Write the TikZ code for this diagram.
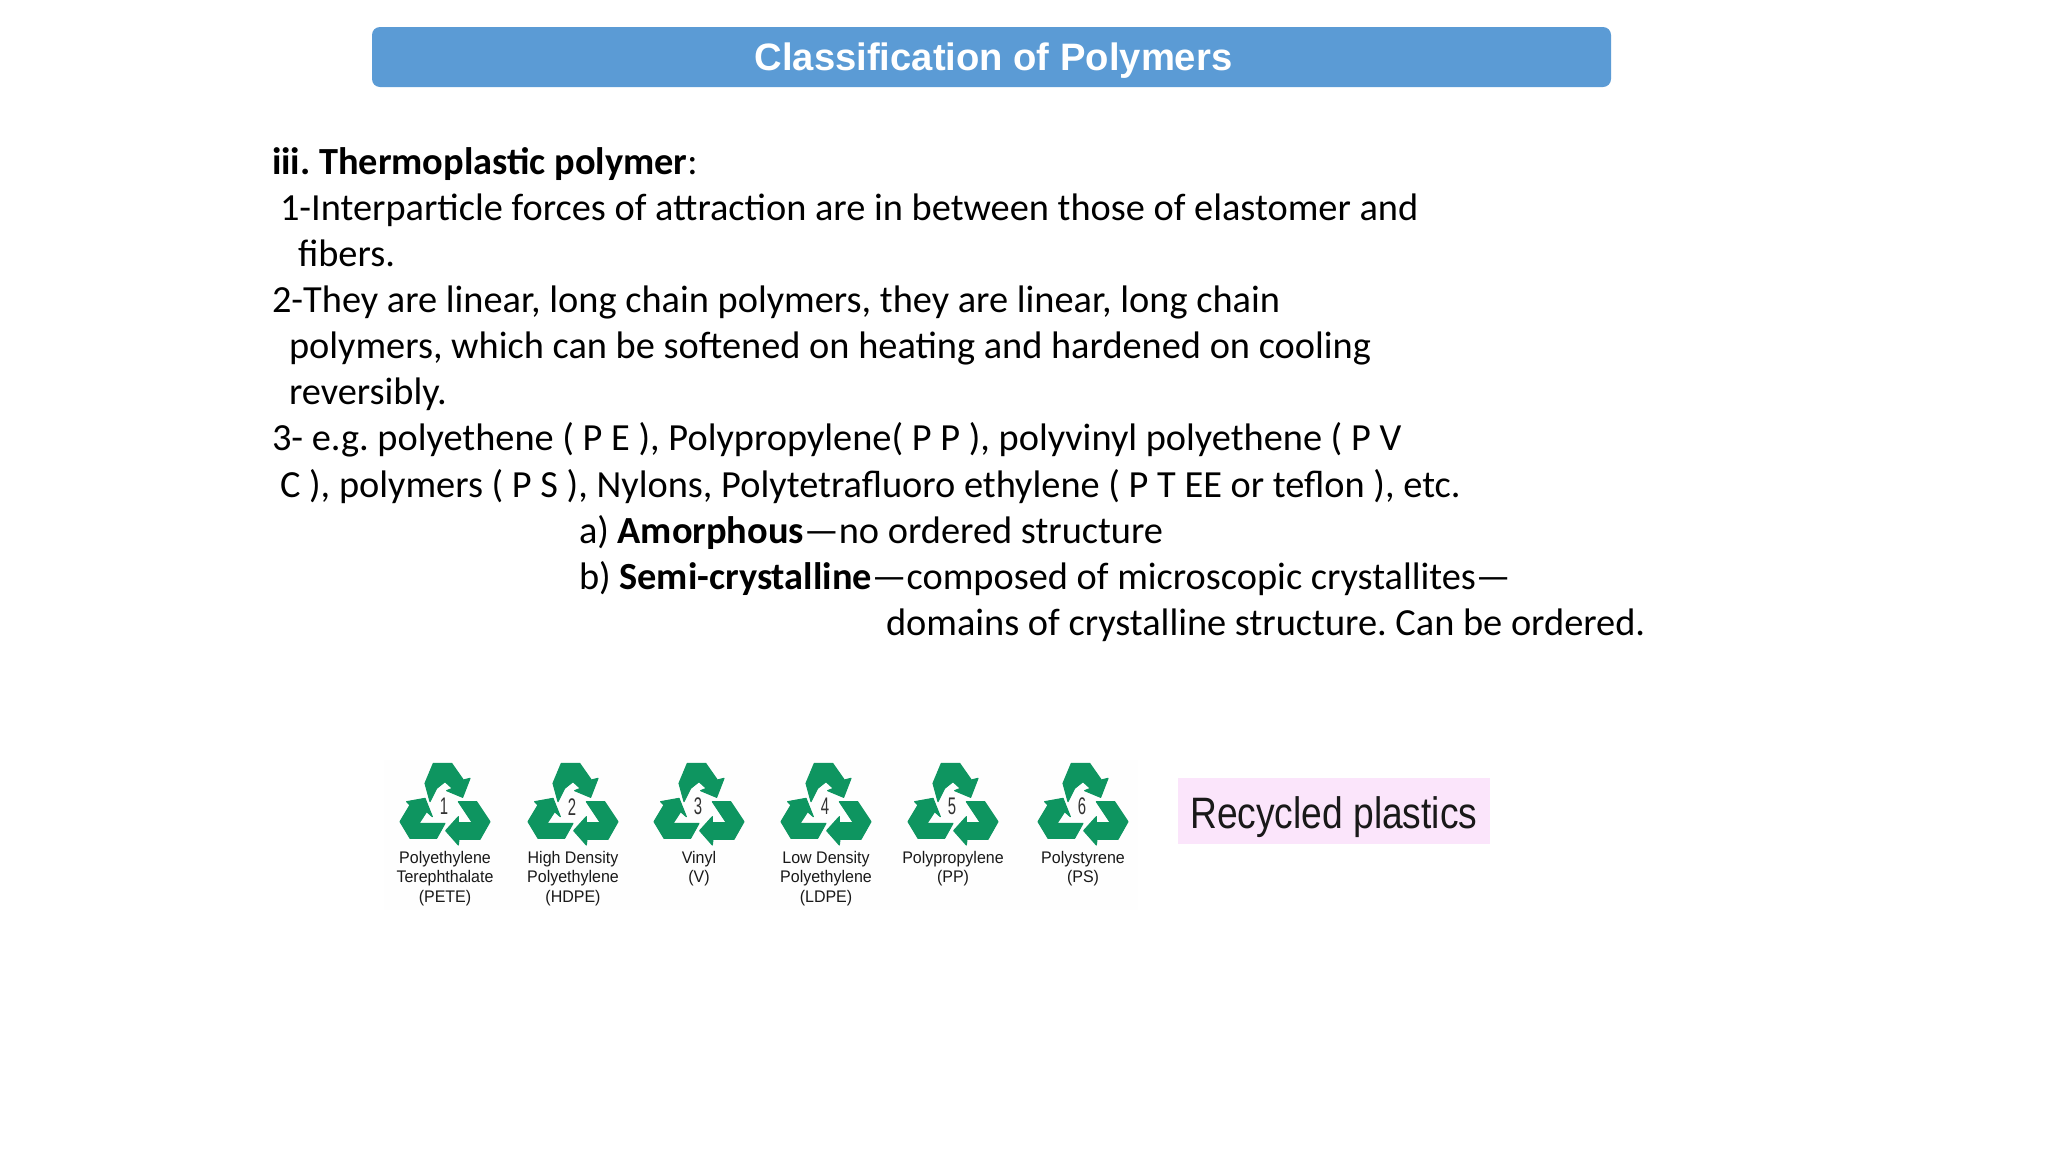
\documentclass[tikz,border=0pt]{standalone}
\usepackage{fontspec}
\setmainfont{Carlito}
\newfontfamily\arialfont{Liberation Sans}
\definecolor{bannerblue}{HTML}{5B9BD5}
\definecolor{recygreen}{HTML}{0E9560}
\definecolor{pinkbg}{HTML}{FBE5FB}
\definecolor{imgbg}{HTML}{FEFEFE}
\tikzset{
  bodytext/.style={anchor=base west,inner sep=0pt,outer sep=0pt,font=\fontsize{38.36}{46}\selectfont,text=black},
  banner/.style={fill=bannerblue,draw=none,rounded corners=8pt,inner sep=0pt,outer sep=0pt},
  bannertext/.style={inner sep=0pt,text=white,font=\arialfont\bfseries\fontsize{38.2}{46}\selectfont},
  arrowshape/.style={fill=recygreen,draw=recygreen,line width=1.1pt,line join=round},
  digit/.style={inner sep=0pt,text=black!80,font=\arialfont\fontsize{24}{24}\selectfont},
  iconlabel/.style={anchor=north,align=center,inner sep=0pt,text=black!90,font=\arialfont\fontsize{16}{18.6}\selectfont},
  recytext/.style={anchor=base west,inner sep=0pt,text=black!90,font=\arialfont\fontsize{44}{46}\selectfont}
}
\newcommand{\recysym}[3]{%
  \begin{scope}[shift={(#1,760)},x=0.3333pt,y=-0.3333pt]
    \filldraw[arrowshape] (-35,10) -- (20,10) -- (55,60) -- (75,55) -- (53,112) -- (5,92) -- (22,85) -- (0,65) -- (-25,85) -- (-45,125) -- (-60,70) -- cycle;
    \filldraw[arrowshape] (-135,185) -- (-105,135) -- (-115,125) -- (-60,115) -- (-38,170) -- (-55,155) -- (-78,190) -- (0,190) -- (-25,235) -- (-105,235) -- cycle;
    \filldraw[arrowshape] (40,125) -- (95,125) -- (135,185) -- (105,238) -- (42,238) -- (40,255) -- (2,212) -- (40,170) -- (40,188) -- (82,188) -- cycle;
    \node[digit,xscale=0.62] (d#2) at (-3,140) {#2};
  \end{scope}
  \node[iconlabel] (lab#2) at (#1,851) {\scalebox{1}[1.05]{\parbox{110pt}{\centering #3}}};
}
\begin{document}
\frenchspacing
\begin{tikzpicture}[x=1pt,y=-1pt]
\useasboundingbox (0,0) rectangle (2048,1152);
\fill[white] (0,0) rectangle (2048,1152);
\node[banner,minimum width=1239pt,minimum height=60pt] (title) at (991.5,57) {};
\node[bannertext] (titletext) at (993.5,60.8) {Classification of Polymers};

\node[bodytext] (l1) at (272,174) {\textbf{iii. Thermoplastic polymer}:};
\node[bodytext] (l2) at (280,220) {1-Interparticle forces of attraction are in between those of elastomer and};
\node[bodytext] (l3) at (298,266) {fibers.};
\node[bodytext] (l4) at (272,312) {2-They are linear, long chain polymers, they are linear, long chain};
\node[bodytext] (l5) at (289,358.5) {polymers, which can be softened on heating and hardened on cooling};
\node[bodytext] (l6) at (289,404.5) {reversibly.};
\node[bodytext] (l7) at (272,450.5) {3- e.g. polyethene ( P E ), Polypropylene( P P ), polyvinyl polyethene ( P V};
\node[bodytext] (l8) at (280,497) {C ), polymers ( P S ), Nylons, Polytetrafluoro ethylene ( P T EE or teflon ), etc.};
\node[bodytext] (l9) at (579,543) {a) \textbf{Amorphous}---no ordered structure};
\node[bodytext] (l10) at (579,589) {b) \textbf{Semi-crystalline}---composed of microscopic crystallites---};
\node[bodytext] (l11) at (886,635) {domains of crystalline structure. Can be ordered.};

\fill[imgbg] (384,760) rectangle (1138,910);
\recysym{445}{1}{Polyethylene\\Terephthalate\\(PETE)}
\recysym{573}{2}{High Density\\Polyethylene\\(HDPE)}
\recysym{699}{3}{Vinyl\\(V)}
\recysym{826}{4}{Low Density\\Polyethylene\\(LDPE)}
\recysym{953}{5}{Polypropylene\\(PP)}
\recysym{1083}{6}{Polystyrene\\(PS)}

\node[fill=pinkbg,inner sep=0pt,minimum width=312pt,minimum height=66pt] (recybox) at (1334,811) {};
\node[recytext] (recytitle) at (1190,828) {\scalebox{0.845}[1]{Recycled plastics}};
\end{tikzpicture}
\end{document}
